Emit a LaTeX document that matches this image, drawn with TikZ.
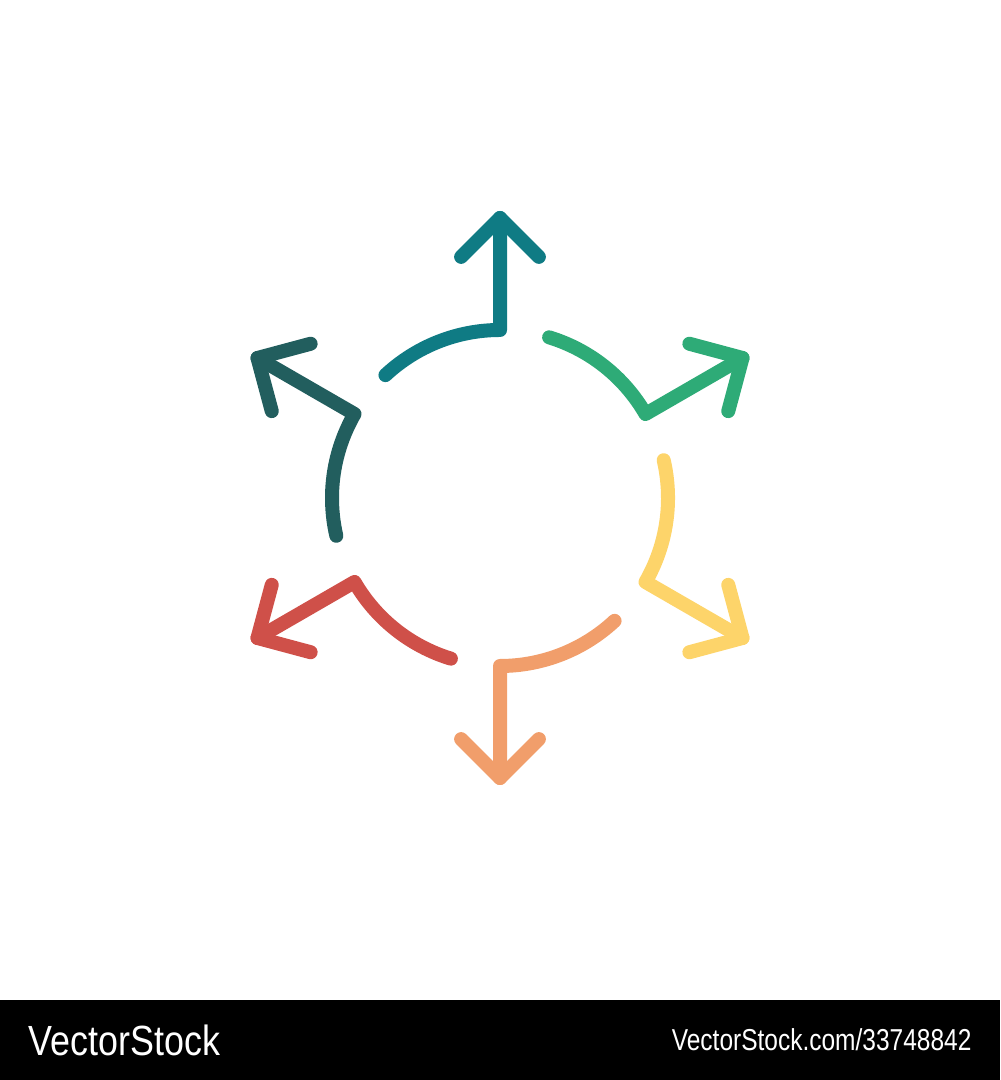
\documentclass[tikz,border=0pt]{standalone}
\usepackage{fontspec}
\setmainfont{Liberation Sans}
\usetikzlibrary{calc}
\definecolor{spokeTeal}{HTML}{0F7B84}
\definecolor{spokeGreen}{HTML}{2EAB77}
\definecolor{spokeYellow}{HTML}{FDD46A}
\definecolor{spokeOrange}{HTML}{F19E6B}
\definecolor{spokeRed}{HTML}{CF5049}
\definecolor{spokeDark}{HTML}{225E5E}
\tikzset{spoke/.style={line width=0.14cm, line cap=round, line join=round}}

\begin{document}
\begin{tikzpicture}[x=0.01cm, y=0.01cm]
    \useasboundingbox (0,0) rectangle (1000,1080);
    \coordinate (c) at (500,582);

    % arc start, bend and tip of each spoke
    \coordinate (sN)  at ($(c)+(133:168)$);
    \coordinate (bN)  at ($(c)+(90:168)$);
    \coordinate (tN)  at ($(c)+(90:280)$);
    \coordinate (sNE) at ($(c)+(73:168)$);
    \coordinate (bNE) at ($(c)+(30:168)$);
    \coordinate (tNE) at ($(c)+(30:280)$);
    \coordinate (sSE) at ($(c)+(13:168)$);
    \coordinate (bSE) at ($(c)+(-30:168)$);
    \coordinate (tSE) at ($(c)+(-30:280)$);
    \coordinate (sS)  at ($(c)+(-47:168)$);
    \coordinate (bS)  at ($(c)+(-90:168)$);
    \coordinate (tS)  at ($(c)+(-90:280)$);
    \coordinate (sSW) at ($(c)+(-107:168)$);
    \coordinate (bSW) at ($(c)+(-150:168)$);
    \coordinate (tSW) at ($(c)+(-150:280)$);
    \coordinate (sNW) at ($(c)+(-167:168)$);
    \coordinate (bNW) at ($(c)+(150:168)$);
    \coordinate (tNW) at ($(c)+(150:280)$);

    \draw[spoke, spokeTeal]   (sN)  arc[start angle=133,  end angle=90,   radius=168] -- (tN);
    \draw[spoke, spokeTeal]   ($(tN)+(225:55)$) -- (tN) -- ($(tN)+(-45:55)$);
    \draw[spoke, spokeGreen]  (sNE) arc[start angle=73,   end angle=30,   radius=168] -- (tNE);
    \draw[spoke, spokeGreen]  ($(tNE)+(165:55)$) -- (tNE) -- ($(tNE)+(255:55)$);
    \draw[spoke, spokeYellow] (sSE) arc[start angle=13,   end angle=-30,  radius=168] -- (tSE);
    \draw[spoke, spokeYellow] ($(tSE)+(105:55)$) -- (tSE) -- ($(tSE)+(195:55)$);
    \draw[spoke, spokeOrange] (sS)  arc[start angle=-47,  end angle=-90,  radius=168] -- (tS);
    \draw[spoke, spokeOrange] ($(tS)+(45:55)$) -- (tS) -- ($(tS)+(135:55)$);
    \draw[spoke, spokeRed]    (sSW) arc[start angle=-107, end angle=-150, radius=168] -- (tSW);
    \draw[spoke, spokeRed]    ($(tSW)+(-15:55)$) -- (tSW) -- ($(tSW)+(75:55)$);
    \draw[spoke, spokeDark]   (sNW) arc[start angle=-167, end angle=-210, radius=168] -- (tNW);
    \draw[spoke, spokeDark]   ($(tNW)+(-75:55)$) -- (tNW) -- ($(tNW)+(15:55)$);

    % footer
    \fill[black] (0,0) rectangle (1000,80);
    \node[white, anchor=west, inner sep=0pt, xscale=0.85, font=\fontsize{12}{12}\selectfont] (brand) at (28,40) {VectorStock};
    \node[white, anchor=east, inner sep=0pt, xscale=0.81, font=\fontsize{8.6}{8.6}\selectfont] (ref) at (972,40) {VectorStock.com/33748842};
\end{tikzpicture}
\end{document}
